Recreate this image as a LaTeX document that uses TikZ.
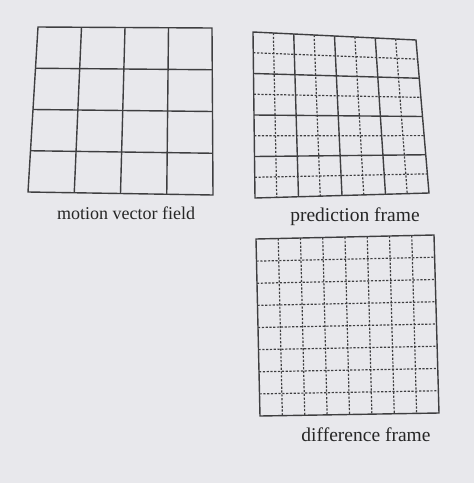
\documentclass[tikz,border=0pt]{standalone}
\usepackage{fontspec}
\setmainfont{Liberation Serif}
\usetikzlibrary{calc}
\definecolor{paper}{RGB}{232,232,236}
\definecolor{ink}{RGB}{62,62,64}
\tikzset{
  solidline/.style={draw=ink, line width=1.4pt},
  dashline/.style={draw=ink, line width=1.2pt, dash pattern=on 2.2pt off 1.6pt},
  caption/.style={text=black!85, inner sep=0pt}
}
\begin{document}
\begin{tikzpicture}[x=1pt,y=-1pt]
\useasboundingbox (0,0) rectangle (474,483);
\fill[paper] (0,0) rectangle (474,483);
% grid 1: motion vector field
\coordinate (a1) at (38,27);
\coordinate (b1) at (212,28);
\coordinate (c1) at (28,192);
\coordinate (d1) at (213,195);
\foreach \t in {0.25,0.5,0.75}{
  \draw[solidline] ($(a1)!\t!(c1)$) -- ($(b1)!\t!(d1)$);
  \draw[solidline] ($(a1)!\t!(b1)$) -- ($(c1)!\t!(d1)$);
}
\draw[solidline] (a1) -- (b1) -- (d1) -- (c1) -- cycle;
\node[caption, font=\fontsize{18}{21}\selectfont] (cap1) at (126,213) {motion vector field};
% grid 2: prediction frame
\coordinate (a2) at (253,32);
\coordinate (b2) at (416,40);
\coordinate (c2) at (255,198);
\coordinate (d2) at (429,193);
\foreach \t in {0.125,0.375,0.625,0.875}{
  \draw[dashline] ($(a2)!\t!(c2)$) -- ($(b2)!\t!(d2)$);
  \draw[dashline] ($(a2)!\t!(b2)$) -- ($(c2)!\t!(d2)$);
}
\foreach \t in {0.25,0.5,0.75}{
  \draw[solidline] ($(a2)!\t!(c2)$) -- ($(b2)!\t!(d2)$);
  \draw[solidline] ($(a2)!\t!(b2)$) -- ($(c2)!\t!(d2)$);
}
\draw[solidline] (a2) -- (b2) -- (d2) -- (c2) -- cycle;
\node[caption, font=\fontsize{19.5}{22}\selectfont] (cap2) at (355,217) {prediction frame};
% grid 3: difference frame
\coordinate (a3) at (256,239);
\coordinate (b3) at (434,235);
\coordinate (c3) at (260,416);
\coordinate (d3) at (439,413);
\foreach \t in {0.125,0.25,0.375,0.5,0.625,0.75,0.875}{
  \draw[dashline] ($(a3)!\t!(c3)$) -- ($(b3)!\t!(d3)$);
  \draw[dashline] ($(a3)!\t!(b3)$) -- ($(c3)!\t!(d3)$);
}
\draw[solidline] (a3) -- (b3) -- (d3) -- (c3) -- cycle;
\node[caption, font=\fontsize{19.5}{22}\selectfont] (cap3) at (366,435) {difference frame};
\end{tikzpicture}
\end{document}
